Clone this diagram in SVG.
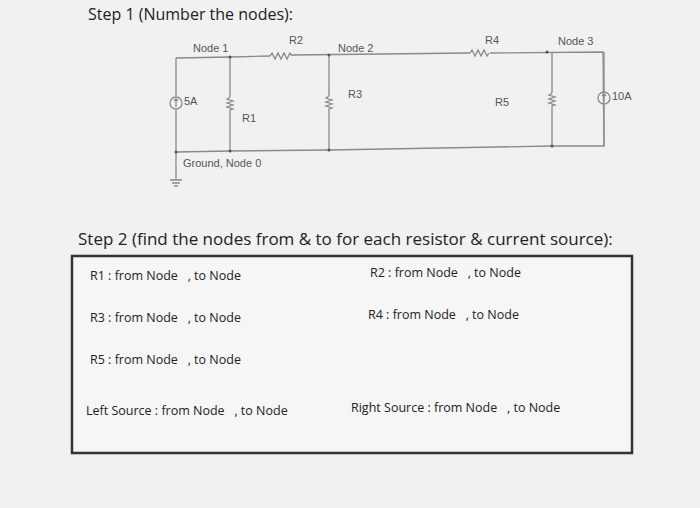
<svg xmlns="http://www.w3.org/2000/svg" width="700" height="508" viewBox="0 0 700 508">
<style>
.w{stroke:#8a8a8a;stroke-width:1.3;fill:none}
.lb{font-family:"Liberation Sans",Arial,sans-serif;fill:#555;font-size:11px}
.t{font-family:"Open Sans","Liberation Sans",sans-serif;fill:#222;white-space:pre}
.s{font-size:12.5px}
</style>
<rect width="700" height="508" fill="#f1f1f1"/>
<text class="t" x="88" y="20" font-size="16">Step 1 (Number the nodes):</text>
<g id="connectors">
<path class="w" d="M176,58 L230,57 L270,56 M292,55 L470,53 M490,53 L603,52 L604,146 L552,146 L329,150 L230,151 L176,152"/>
<path class="w" d="M176,58 V96 M176,110 V152 M230,57 V97 M230,112 V151 M329,55 V96 M329,111 V150 M552,52 V93 M552,108 V146 M604,52 V91 M604,105 V146"/>
<path class="w" d="M176,152 V180 M170,180 H182 M172,183 H180 M174,186 H178"/>
</g>
<g id="R2"><path class="w" d="M270,56 l2,-3 l3,6 l3,-6 l3,6 l3,-6 l3,6 l3,-6 l2,3"/><text class="lb" x="289" y="44" font-size="13">R2</text></g>
<g id="R4"><path class="w" d="M470,53 l2,-3 l3,6 l3,-6 l3,6 l3,-6 l3,6 l2,-3"/><text class="lb" x="485" y="44" font-size="13">R4</text></g>
<g id="R1"><path class="w" d="M230,97 l-3,2 l6,2 l-6,2 l6,2 l-6,2 l6,2 l-3,1 v2"/><text class="lb" x="242" y="122" font-size="13">R1</text></g>
<g id="R3"><path class="w" d="M329,96 l-3,2 l6,2 l-6,2 l6,2 l-6,2 l6,2 l-3,1 v2"/><text class="lb" x="348" y="98" font-size="13">R3</text></g>
<g id="R5"><path class="w" d="M552,93 l-3,2 l6,2 l-6,2 l6,2 l-6,2 l6,2 l-3,1 v2"/><text class="lb" x="495" y="106" font-size="13">R5</text></g>
<g id="src1"><circle class="w" cx="176" cy="103" r="6" fill="#eee"/><path class="w" d="M176,107 V99 M174,101 L176,99 L178,101"/><text class="lb" x="184" y="105" font-size="5">5A</text></g>
<g id="src2"><circle class="w" cx="604" cy="98" r="6" fill="#eee"/><path class="w" d="M604,102 V94 M602,96 L604,94 L606,96"/><text class="lb" x="612" y="100" font-size="5">10A</text></g>
<g id="n1"><circle cx="230" cy="57" r="1.5" fill="#555"/><text class="lb" x="193" y="52">Node 1</text></g>
<g id="n2"><circle cx="329" cy="55" r="1.5" fill="#555"/><text class="lb" x="338" y="52">Node 2</text></g>
<g id="n3"><circle cx="547" cy="52" r="1.5" fill="#555"/><text class="lb" x="558" y="45">Node 3</text></g>
<g id="n0"><circle cx="176" cy="152" r="1.5" fill="#555"/><circle cx="230" cy="151" r="1.5" fill="#555"/><circle cx="329" cy="150" r="1.5" fill="#555"/><circle cx="552" cy="146" r="1.5" fill="#555"/><text class="lb" x="183" y="167">Ground, Node 0</text></g>
<text class="t" x="78" y="245" font-size="17">Step 2 (find the nodes from &amp; to for each resistor &amp; current source):</text>
<g id="box">
<rect x="72" y="256" width="560" height="197" fill="#f6f6f6" stroke="#333" stroke-width="2.5"/>
<text class="t s" x="90" y="280">R1 : from Node   , to Node</text>
<text class="t s" x="370" y="277">R2 : from Node   , to Node</text>
<text class="t s" x="90" y="322">R3 : from Node   , to Node</text>
<text class="t s" x="368" y="319">R4 : from Node   , to Node</text>
<text class="t s" x="90" y="364">R5 : from Node   , to Node</text>
<text class="t s" x="86" y="415">Left Source : from Node   , to Node</text>
<text class="t s" x="351" y="412">Right Source : from Node   , to Node</text>
</g>
</svg>
